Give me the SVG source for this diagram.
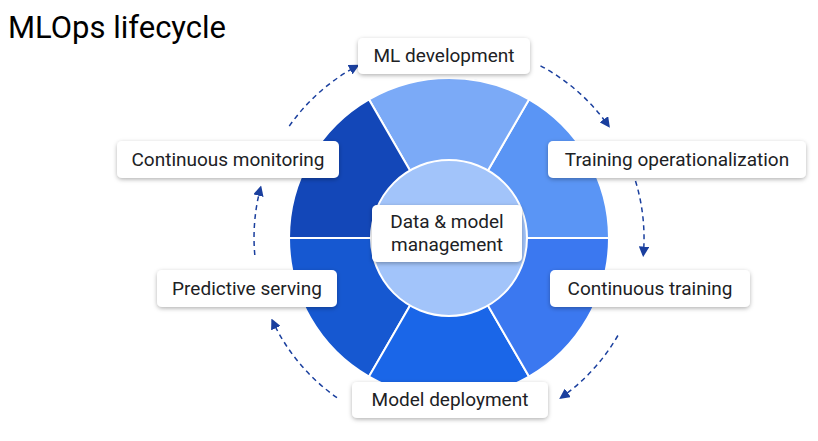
<svg xmlns="http://www.w3.org/2000/svg" width="818" height="441" viewBox="0 0 818 441">
<defs>
<filter id="sh" x="-20%" y="-30%" width="140%" height="170%"><feDropShadow dx="0" dy="1.5" stdDeviation="2" flood-color="#000" flood-opacity="0.3"/></filter>
<marker id="ar" viewBox="0 0 10 10" refX="8" refY="5" markerWidth="7" markerHeight="7" orient="auto"><path d="M0,0 L10,5 L0,10 z" fill="#1a3f9e"/></marker>
<style>
.lb{fill:#fff;filter:url(#sh)}
.t{font-family:Roboto,"Liberation Sans",sans-serif;font-size:19px;fill:#202124;text-anchor:middle}
.arc{fill:none;stroke:#1a3f9e;stroke-width:1.5;stroke-dasharray:5 4;marker-end:url(#ar)}
.w{stroke:#fff;stroke-width:2}
</style>
</defs>
<rect width="818" height="441" fill="#fff"/>
<text x="8" y="38" font-family="Roboto,'Liberation Sans',sans-serif" font-size="31" fill="#000">MLOps lifecycle</text>
<g id="wheel">
<path class="w" d="M449,238 L529,99.4 A160,160 0 0 1 609,238 Z" fill="#5a95f5"/>
<path class="w" d="M449,238 L369,99.4 A160,160 0 0 1 529,99.4 Z" fill="#7baaf7"/>
<path class="w" d="M449,238 L289,238 A160,160 0 0 1 369,99.4 Z" fill="#1347b8"/>
<path class="w" d="M449,238 L369,376.6 A160,160 0 0 1 289,238 Z" fill="#1658d1"/>
<path class="w" d="M449,238 L529,376.6 A160,160 0 0 1 369,376.6 Z" fill="#1a66e8"/>
<path class="w" d="M449,238 L609,238 A160,160 0 0 1 529,376.6 Z" fill="#3b78f0"/>
<circle cx="449" cy="238" r="78" fill="#a2c4fa" stroke="#fff" stroke-width="2"/>
</g>
<g id="connectors">
<path class="arc" d="M540.5,65.8 A195,195 0 0 1 608.7,126.1"/>
<path class="arc" d="M635.5,181 A195,195 0 0 1 643.3,255"/>
<path class="arc" d="M617.9,335.5 A195,195 0 0 1 560.9,397.7"/>
<path class="arc" d="M337,397.7 A195,195 0 0 1 272.3,320.5"/>
<path class="arc" d="M254.8,255 A195,195 0 0 1 260.6,187.5"/>
<path class="arc" d="M289.3,126.1 A195,195 0 0 1 357.5,65.8"/>
</g>
<g id="n-center"><rect class="lb" x="372" y="205" width="150" height="57" rx="5"/><text class="t" x="447" y="228">Data &amp; model</text><text class="t" x="447" y="251">management</text></g>
<g id="n-ml"><rect class="lb" x="358" y="38" width="172" height="36" rx="5"/><text class="t" x="444" y="62">ML development</text></g>
<g id="n-top"><rect class="lb" x="548" y="141" width="258" height="37" rx="5"/><text class="t" x="677" y="166">Training operationalization</text></g>
<g id="n-ct"><rect class="lb" x="550" y="270" width="200" height="37" rx="5"/><text class="t" x="650" y="295">Continuous training</text></g>
<g id="n-md"><rect class="lb" x="352" y="382" width="196" height="36" rx="5"/><text class="t" x="450" y="406">Model deployment</text></g>
<g id="n-ps"><rect class="lb" x="157" y="270" width="180" height="37" rx="5"/><text class="t" x="247" y="295">Predictive serving</text></g>
<g id="n-cm"><rect class="lb" x="117" y="141" width="222" height="37" rx="5"/><text class="t" x="228" y="166">Continuous monitoring</text></g>
</svg>
